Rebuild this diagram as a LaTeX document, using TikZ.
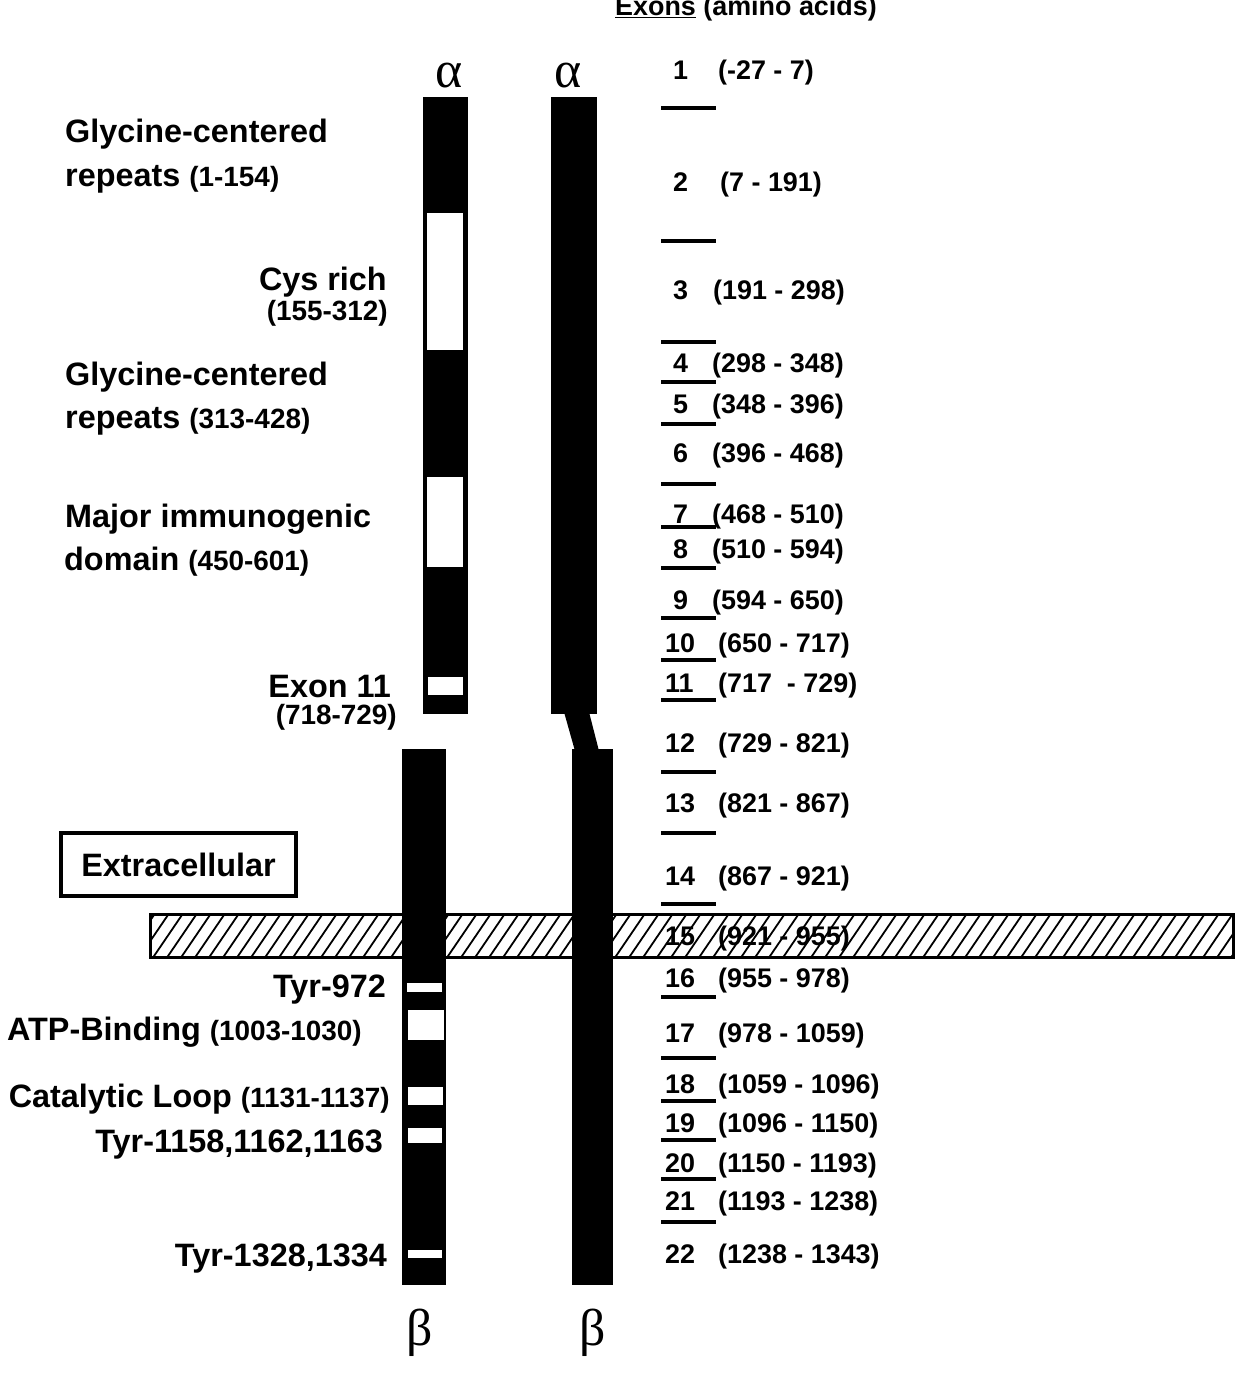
\documentclass[tikz,border=0pt]{standalone}
\usepackage{fontspec}
\setmainfont{Liberation Sans}
\newfontfamily\grkfont{Liberation Serif}
\newcommand{\smtxt}[1]{{\fontsize{28}{30}\selectfont #1}}
\tikzset{
  lab/.style={font=\fontsize{32.5}{36}\selectfont\bfseries, inner sep=0pt},
  smlab/.style={font=\fontsize{28}{30}\selectfont\bfseries, inner sep=0pt},
  exo/.style={font=\fontsize{27}{30}\selectfont\bfseries, inner sep=0pt, anchor=base west},
  greek/.style={font=\fontsize{52}{56}\selectfont\grkfont, inner sep=0pt},
  bar/.style={fill=black, draw=none},
  gap/.style={fill=white, draw=none},
  divider/.style={line width=4bp},
  hatch/.style={line width=1.8bp},
}
\begin{document}
\begin{tikzpicture}[x=1bp, y=-1bp]
\useasboundingbox (0,0) rectangle (1257,1384);

% membrane
\begin{scope}
  \clip (150,914) rectangle (1233,957);
  \foreach \x in {110,124,...,1260} \draw[hatch] (\x,959) -- (\x+32,912);
\end{scope}
\draw[line width=3bp] (150,914) rectangle (1233,957);

% alpha chains
\fill[bar] (423,97) rectangle (468,714);
\fill[gap] (427,213) rectangle (463,350);
\fill[gap] (427,477) rectangle (463,567);
\fill[gap] (428,677) rectangle (463,695);
\fill[bar] (551,97) rectangle (597,714);
\fill[bar] (564,712) -- (589,712) -- (599,751) -- (575,751) -- cycle;

% beta chains
\fill[bar] (402,749) rectangle (446,1285);
\fill[gap] (407,983) rectangle (442,992);
\fill[gap] (408,1010) rectangle (444,1040);
\fill[gap] (408,1087) rectangle (443,1105);
\fill[gap] (408,1128) rectangle (442,1143);
\fill[gap] (408,1250) rectangle (442,1258);
\fill[bar] (572,749) rectangle (613,1285);

% greek labels
\node[greek, anchor=base] (a1) at (449,88) {α};
\node[greek, anchor=base] (a2) at (568,88) {α};
\node[greek, anchor=base] (b1) at (420,1345) {β};
\node[greek, anchor=base] (b2) at (593,1345) {β};

% header
\node[exo] (hdr) at (615,16) {\underline{Exons} (amino acids)};

% exon dividers
\foreach \y in {108,241,342,382,424,484,527,568,618,660,700,772,833,904,997,1058,1101,1140,1179,1222}
  \draw[divider] (661,\y) -- (716,\y);

% exon labels
\foreach \n/\xn/\xr/\yb/\r in {
  1/673/718/80/{(-27 - 7)},
  2/673/720/192/{(7 - 191)},
  3/673/713/299/{(191 - 298)},
  4/673/712/372/{(298 - 348)},
  5/673/712/413/{(348 - 396)},
  6/673/712/462/{(396 - 468)},
  7/673/712/523/{(468 - 510)},
  8/673/712/558/{(510 - 594)},
  9/673/712/609/{(594 - 650)},
  10/665/718/652/{(650 - 717)},
  11/665/718/692/{(717\ \ - 729)},
  12/665/718/752/{(729 - 821)},
  13/665/718/812/{(821 - 867)},
  14/665/718/885/{(867 - 921)},
  15/665/718/945/{(921 - 955)},
  16/665/718/987/{(955 - 978)},
  17/665/718/1042/{(978 - 1059)},
  18/665/718/1093/{(1059 - 1096)},
  19/665/718/1132/{(1096 - 1150)},
  20/665/718/1172/{(1150 - 1193)},
  21/665/718/1210/{(1193 - 1238)},
  22/665/718/1263/{(1238 - 1343)}}
{
  \node[exo] (en\n) at (\xn,\yb) {\n};
  \node[exo] (er\n) at (\xr,\yb) {\r};
}

% left labels
\node[lab, anchor=base west] (g1a) at (65,143) {Glycine-centered};
\node[lab, anchor=base west] (g1b) at (65,187) {repeats \smtxt{(1-154)}};
\node[lab, anchor=base east] (cys) at (387,290) {Cys rich};
\node[smlab, anchor=base east] (cysr) at (388,320) {(155-312)};
\node[lab, anchor=base west] (g2a) at (65,385) {Glycine-centered};
\node[lab, anchor=base west] (g2b) at (65,428) {repeats \smtxt{(313-428)}};
\node[lab, anchor=base west] (mid1) at (65,527) {Major immunogenic};
\node[lab, anchor=base west] (mid2) at (64,570) {domain \smtxt{(450-601)}};
\node[lab, anchor=base east] (ex11) at (391,697) {Exon 11};
\node[smlab, anchor=base east] (ex11r) at (397,724) {(718-729)};

% extracellular box
\node[lab, draw, line width=4bp, minimum width=235bp, minimum height=63bp] (extra) at (178.5,864.5) {Extracellular};

% beta labels
\node[lab, anchor=base east] (t972) at (386,997) {Tyr-972};
\node[lab, anchor=base east] (atp) at (362,1040) {ATP-Binding \smtxt{(1003-1030)}};
\node[lab, anchor=base east] (cat) at (390,1107) {Catalytic Loop \smtxt{(1131-1137)}};
\node[lab, anchor=base east] (t1158) at (383,1152) {Tyr-1158,1162,1163};
\node[lab, anchor=base east] (t1328) at (387,1266) {Tyr-1328,1334};
\end{tikzpicture}
\end{document}
